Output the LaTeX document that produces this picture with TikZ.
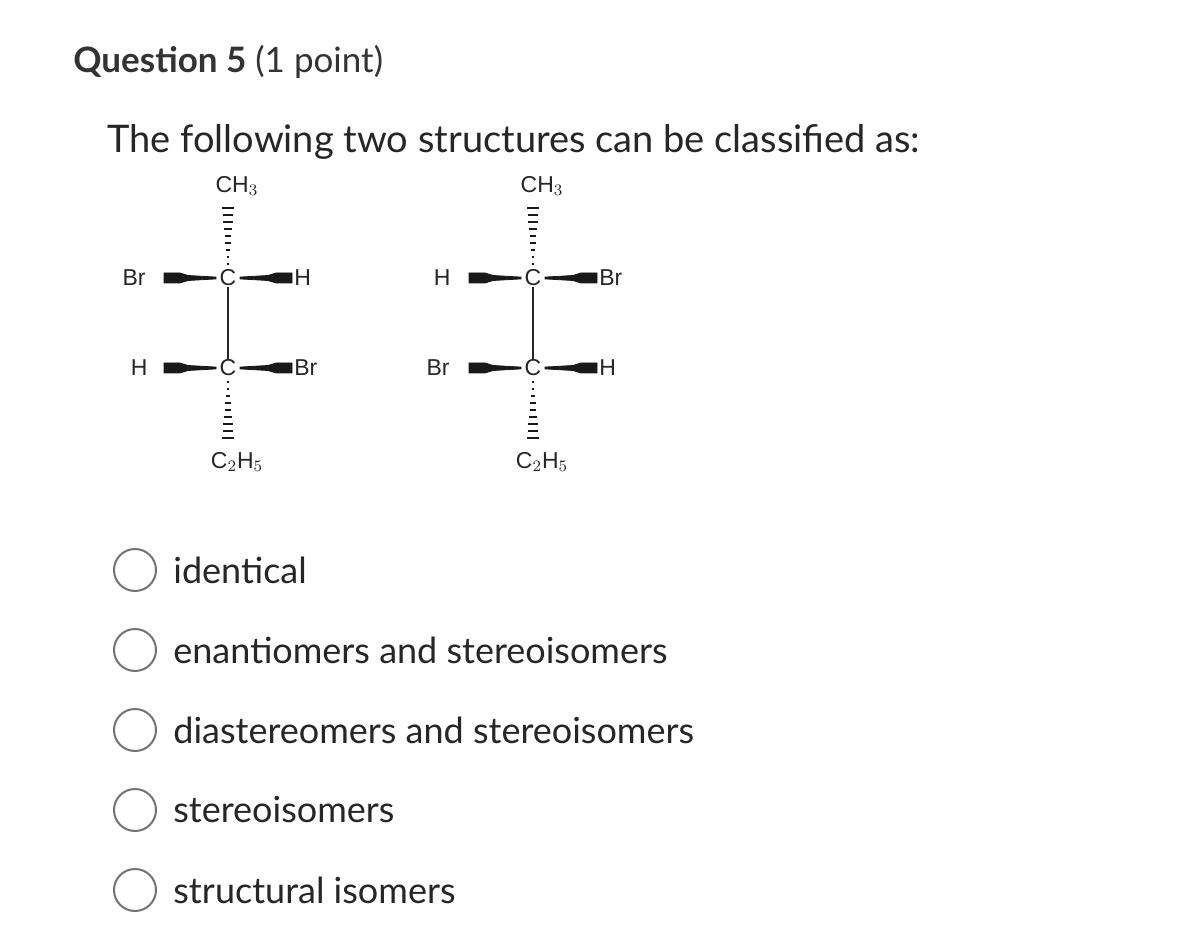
\documentclass[tikz,border=0pt]{standalone}
\usepackage{fontspec}
\setmainfont{Lato}
\newfontfamily\chem{Liberation Sans}
\newcommand{\wedgeL}[2]{% thick end to left, C at (#1,#2)
 \fill[chemc] (#1-12,#2-0.9) -- (#1-40,#2-2.5) -- (#1-48,#2-5) -- (#1-64,#2-5) -- (#1-64,#2+5) -- (#1-48,#2+5) -- (#1-40,#2+2.5) -- (#1-12,#2+0.9) -- cycle;}
\newcommand{\wedgeR}[2]{%
 \fill[chemc] (#1+12,#2-0.9) -- (#1+40,#2-2.5) -- (#1+48,#2-5) -- (#1+64,#2-5) -- (#1+64,#2+5) -- (#1+48,#2+5) -- (#1+40,#2+2.5) -- (#1+12,#2+0.9) -- cycle;}
\newcommand{\hashU}[2]{% hashes going up from C at (#1,#2)
 \foreach \k in {0,...,8}{\pgfmathsetmacro\hw{0.8+0.65*\k}\draw[chemc,line width=0.9] (#1-\hw,#2-14-7*\k) -- (#1+\hw,#2-14-7*\k);}}
\newcommand{\hashD}[2]{%
 \foreach \k in {0,...,8}{\pgfmathsetmacro\hw{0.8+0.65*\k}\draw[chemc,line width=0.9] (#1-\hw,#2+14+7*\k) -- (#1+\hw,#2+14+7*\k);}}
\begin{document}
\begin{tikzpicture}[x=0.5pt,y=-0.5pt,
 chemc/.style={fill=black!90,draw=black!90},
 atom/.style={font=\chem\fontsize{11.5}{12}\selectfont,text=black!85,inner sep=0pt},
 radio/.style={circle,draw=black!55,line width=1pt,minimum size=21pt,inner sep=0pt},
 opt/.style={font=\fontsize{18}{20}\selectfont,text=black!85,anchor=west,inner sep=0pt}]
\useasboundingbox (0,0) rectangle (1188,935);
\fill[white] (0,0) rectangle (1188,935);
\node[anchor=west,inner sep=0pt,text=black!80,font=\fontsize{17.5}{20}\selectfont] (q) at (73,62) {\textbf{Question 5} (1 point)};
\node[anchor=west,inner sep=0pt,text=black!85,font=\fontsize{19}{22}\selectfont] (t) at (107,142) {The following two structures can be classified as:};
% molecule 1
\node[atom] (c1) at (228,278) {C};
\node[atom] (c2) at (228,368) {C};
\node[atom] (m1) at (237,186) {CH$_3$};
\node[atom] (e1) at (237,462) {C$_2$H$_5$};
\node[atom,anchor=east] (a1) at (146,278) {Br};
\node[atom,anchor=west] (b1) at (294,278) {H};
\node[atom,anchor=east] (a2) at (148,368) {H};
\node[atom,anchor=west] (b2) at (294,368) {Br};
\draw[black!85,line width=0.8] (c1) -- (c2);
\wedgeL{228}{278}\wedgeR{228}{278}\wedgeL{228}{368}\wedgeR{228}{368}
\hashU{228}{278}\hashD{228}{368}
% molecule 2
\node[atom] (c3) at (533,278) {C};
\node[atom] (c4) at (533,368) {C};
\node[atom] (m2) at (542,186) {CH$_3$};
\node[atom] (e2) at (542,462) {C$_2$H$_5$};
\node[atom,anchor=east] (a3) at (451,278) {H};
\node[atom,anchor=west] (b3) at (599,278) {Br};
\node[atom,anchor=east] (a4) at (450,368) {Br};
\node[atom,anchor=west] (b4) at (599,368) {H};
\draw[black!85,line width=0.8] (c3) -- (c4);
\wedgeL{533}{278}\wedgeR{533}{278}\wedgeL{533}{368}\wedgeR{533}{368}
\hashU{533}{278}\hashD{533}{368}
% options
\foreach \y/\txt/\n in {570/identical/o1,650/enantiomers and stereoisomers/o2,730/diastereomers and stereoisomers/o3,810/stereoisomers/o4,890/structural isomers/o5}{
 \node[radio] (r\n) at (135,\y) {};
 \node[opt] (\n) at (173,\y) {\txt};
}
\end{tikzpicture}
\end{document}
